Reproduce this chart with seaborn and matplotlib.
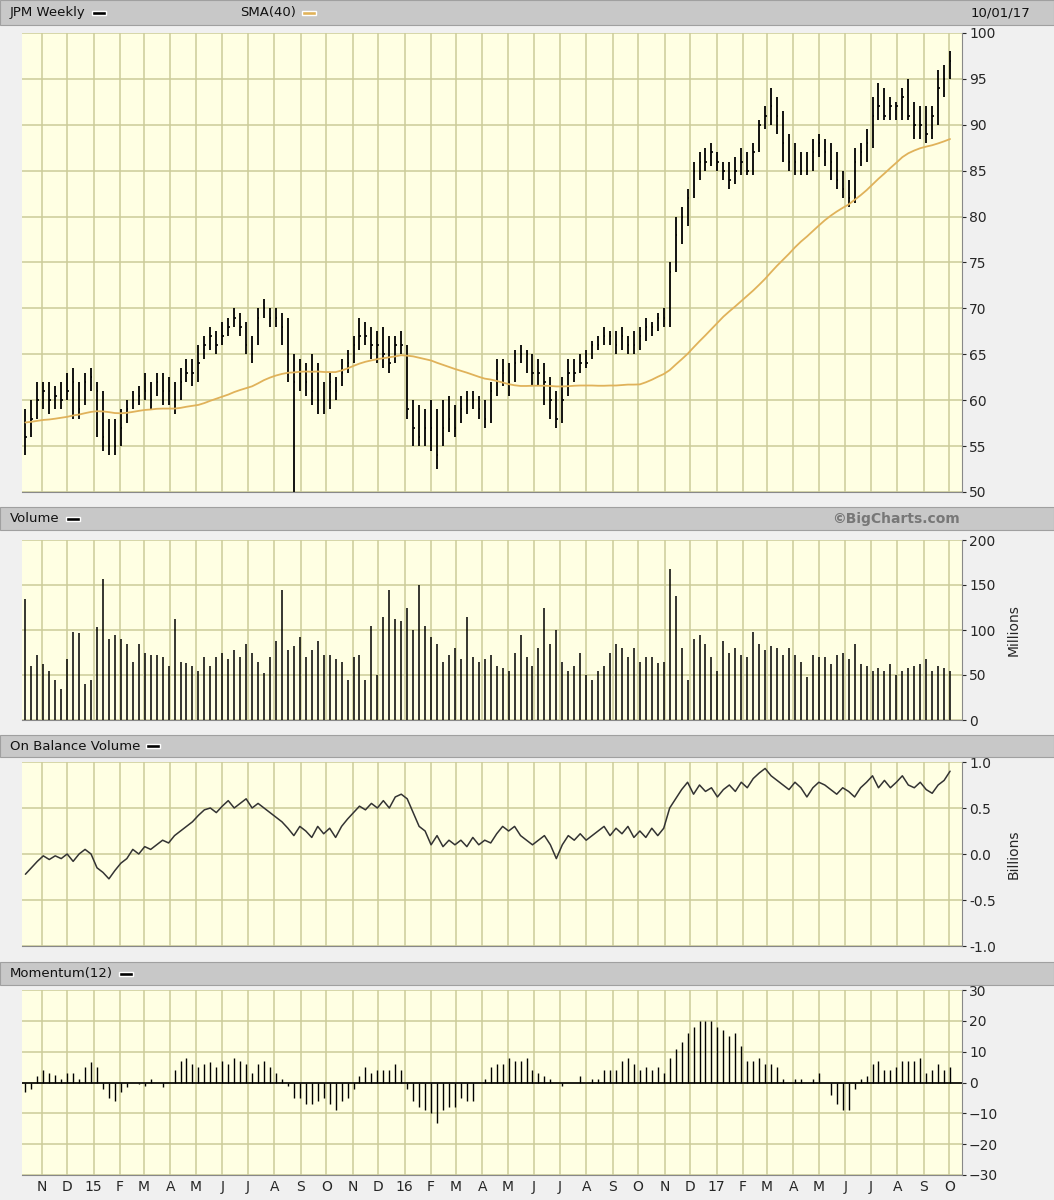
import numpy as np
import pandas as pd
import seaborn as sns
import matplotlib.pyplot as plt
import matplotlib.dates as mdates
from matplotlib.patches import Rectangle

# ---- data (weekly, grouped per month, Oct 2014 .. Oct 2017) ----
close_m = [
    [56, 58, 60], [61, 60, 60.5, 60], [61, 62, 59, 62, 62.5],
    [61, 56, 55, 55], [57, 59, 60, 60.5], [61, 60, 62, 61, 61], [60, 62, 63, 63],
    [64, 66, 67, 66], [67, 68, 69, 68, 66], [65, 69, 70, 69], [69, 68, 65, 62, 63],
    [62, 61, 60, 60], [62, 61, 63, 64], [66, 67, 67, 66, 66], [65, 64, 66, 66],
    [59, 57, 56, 57], [57, 54, 57, 58, 57], [59, 60, 60, 59], [58, 61, 63, 63],
    [62, 64, 65, 65, 63], [63, 62, 60, 58], [60, 63, 63, 64], [64, 66, 66, 67, 67],
    [66, 67, 66, 66], [67, 68, 68, 69, 69], [74, 78, 80, 82], [85, 86, 86, 87],
    [86, 85, 84, 85, 86], [85, 87, 90, 91], [92, 91, 88, 86], [86, 85, 85, 87],
    [88, 87, 86, 84, 83], [82, 86, 87, 88], [91, 92, 91, 92, 92], [93, 91, 90, 90],
    [89, 91, 94, 95], [97],
]
high_m = [
    [59, 60, 62], [62, 62, 61.5, 62], [63, 63.5, 62, 63, 63.5],
    [62, 61, 58, 58], [59, 60, 61, 61.5], [63, 62, 63, 63, 62.5], [62, 63.5, 64.5, 64.5],
    [66, 67, 68, 67.5], [68.5, 69, 70, 69.5, 68.5], [67, 70, 71, 70], [70, 69.5, 69, 65, 64.5],
    [64, 65, 64, 62], [63, 62.5, 64.5, 65.5], [67, 69, 68.5, 68, 67.5], [68, 67, 67, 67.5],
    [66, 60, 59.5, 59], [60, 59, 60, 60.5, 59.5], [60.5, 61, 61, 60.5], [60, 62, 64.5, 64.5],
    [64, 65.5, 66, 65.5, 65], [64.5, 64, 62.5, 61], [62.5, 64.5, 64.5, 65], [65.5, 66.5, 67, 68, 67.5],
    [67.5, 68, 67, 67.5], [68, 69, 68.5, 69.5, 70], [75, 80, 81, 83], [86, 87, 87.5, 88],
    [87, 86, 86, 86.5, 87.5], [87, 88, 90.5, 92], [94, 93, 91.5, 89], [88, 87, 87, 88.5],
    [89, 88.5, 88, 87, 85], [84, 87.5, 88, 89.5], [93, 94.5, 94, 93, 92.5], [94, 95, 92.5, 92],
    [92, 92, 96, 96.5], [98],
]
low_m = [
    [54, 56, 58], [59, 58.5, 59, 59], [60, 58, 58, 59.5, 61],
    [56, 54.5, 54, 54], [55, 57.5, 59, 59.5], [60, 59, 60.5, 59.5, 59.5], [58.5, 60, 62, 61.5],
    [62, 64.5, 65.5, 65], [66, 67, 68, 67, 65], [64, 66, 69, 68], [68, 66, 62, 50, 61],
    [60.5, 59.5, 58.5, 58.5], [59, 60, 61.5, 63], [64, 65.5, 66, 64.5, 64], [63.5, 63, 64, 65],
    [58, 55, 55, 55], [54.5, 52.5, 55, 56.5, 56], [57.5, 58.5, 59, 58], [57, 57.5, 60.5, 61.5],
    [60.5, 62, 64, 63, 61.5], [61.5, 59.5, 58, 57], [57.5, 60.5, 62, 63], [63.5, 64.5, 65.5, 66, 66],
    [65, 65.5, 65, 65], [65.5, 66.5, 67, 67.5, 68], [68, 74, 77, 79], [82, 84, 85, 85.5],
    [85, 84, 83, 83.5, 84.5], [84.5, 84.5, 87, 89.5], [90, 89, 86, 85], [84.5, 84.5, 84.5, 85],
    [86.5, 85.5, 84, 83, 82], [81, 81.5, 85.5, 86], [87.5, 90.5, 90.5, 90.5, 90.5], [90.5, 90.5, 88.5, 88.5],
    [88, 88.5, 90, 93], [95],
]
volume_m = [
    [135, 60, 72], [62, 55, 45, 35], [68, 98, 97, 40, 45],
    [103, 157, 90, 95], [90, 85, 65, 85], [75, 72, 72, 70, 60], [112, 65, 63, 60],
    [55, 70, 60, 70], [75, 68, 78, 70, 85], [75, 65, 52, 70], [88, 145, 78, 82, 92],
    [70, 78, 88, 72], [72, 68, 65, 45], [70, 72, 45, 105, 50], [115, 145, 112, 110],
    [125, 100, 150, 105], [92, 85, 65, 72, 80], [68, 115, 70, 65], [68, 72, 60, 58],
    [55, 75, 95, 70, 60], [80, 125, 85, 100], [65, 55, 60, 75], [50, 45, 55, 60, 75],
    [85, 80, 70, 80], [65, 70, 70, 63, 65], [168, 138, 80, 45], [90, 95, 85, 70],
    [55, 88, 75, 80, 72], [70, 98, 85, 78], [82, 80, 72, 80], [72, 65, 48, 72],
    [70, 70, 62, 72, 75], [68, 85, 62, 60], [55, 58, 55, 62, 50], [55, 58, 60, 62],
    [68, 55, 60, 58], [55],
]
obv_m = [
    [-0.22, -0.15, -0.08], [-0.02, -0.06, -0.02, -0.05], [0.0, -0.08, 0.0, 0.05, 0.0],
    [-0.15, -0.2, -0.27, -0.18], [-0.1, -0.05, 0.05, 0.0], [0.08, 0.05, 0.1, 0.15, 0.12], [0.2, 0.25, 0.3, 0.35],
    [0.42, 0.48, 0.5, 0.45], [0.52, 0.58, 0.5, 0.55, 0.6], [0.5, 0.55, 0.5, 0.45], [0.4, 0.35, 0.28, 0.2, 0.3],
    [0.25, 0.18, 0.3, 0.22], [0.28, 0.18, 0.3, 0.38], [0.45, 0.52, 0.48, 0.55, 0.5], [0.58, 0.5, 0.62, 0.65],
    [0.6, 0.45, 0.3, 0.25], [0.1, 0.2, 0.08, 0.15, 0.1], [0.15, 0.08, 0.18, 0.1], [0.15, 0.12, 0.22, 0.3],
    [0.25, 0.3, 0.2, 0.15, 0.1], [0.15, 0.2, 0.1, -0.05], [0.1, 0.2, 0.15, 0.22], [0.15, 0.2, 0.25, 0.3, 0.2],
    [0.28, 0.22, 0.3, 0.18], [0.25, 0.18, 0.28, 0.2, 0.28], [0.5, 0.6, 0.7, 0.78], [0.65, 0.75, 0.68, 0.72],
    [0.62, 0.7, 0.75, 0.68, 0.78], [0.72, 0.82, 0.88, 0.93], [0.85, 0.8, 0.75, 0.7], [0.78, 0.72, 0.62, 0.72],
    [0.78, 0.75, 0.7, 0.65, 0.72], [0.68, 0.62, 0.72, 0.78], [0.85, 0.72, 0.8, 0.72, 0.78], [0.85, 0.75, 0.72, 0.78],
    [0.7, 0.66, 0.75, 0.8], [0.9],
]
# closes before the visible window (needed for SMA(40) and Momentum(12))
pre_close = [55, 56, 57, 58, 57, 56, 57, 56, 55, 56, 57, 58, 57, 58, 59, 58, 57, 56, 56, 57,
             58, 59, 60, 61, 60, 59, 58, 59, 60, 58, 57, 57, 58, 59, 58, 59, 58, 57, 56]
month_letters = ['J', 'F', 'M', 'A', 'M', 'J', 'J', 'A', 'S', 'O', 'N', 'D']

flat = lambda m: [v for grp in m for v in grp]
close, high, low = flat(close_m), flat(high_m), flat(low_m)
volume, obv = flat(volume_m), flat(obv_m)
dates = pd.date_range('2014-10-13', periods=len(close), freq='W-MON')
df = pd.DataFrame({'date': dates, 'close': close, 'high': high, 'low': low,
                   'volume': volume, 'obv': obv})
allc = pd.Series(pre_close + close)
df['sma'] = allc.rolling(40).mean().iloc[len(pre_close):].values
df['mom'] = (allc - allc.shift(12)).iloc[len(pre_close):].values

# ---- style ----
sns.set_style('white')
plt.rcParams['font.family'] = ['DejaVu Sans']
plt.rcParams['font.size'] = 9
BG = '#ffffe3'
GRID = '#cccc99'
BAR = '#c8c8c8'
ORANGE = '#e0b25a'

fig = plt.figure(figsize=(10.54, 12), dpi=100)
fig.patch.set_facecolor('#f0f0f0')
renderer = fig.canvas.get_renderer()

W, H = 1054, 1200
def axpos(top, bottom, left=22, right=962):
    return [left / W, 1 - bottom / H, (right - left) / W, (bottom - top) / H]

ax_p = fig.add_axes(axpos(33, 492))
ax_v = fig.add_axes(axpos(540, 720), sharex=ax_p)
ax_o = fig.add_axes(axpos(762, 946), sharex=ax_p)
ax_m = fig.add_axes(axpos(990, 1175), sharex=ax_p)

def label_with_icon(xpx, yc, text, color):
    t = fig.text(xpx / W, yc, text, va='center', ha='left', fontsize=9.5, color='#111')
    x1 = t.get_window_extent(renderer).x1
    fig.patches.append(Rectangle(((x1 + 6) / W, yc - 2 / H), 14 / W, 4 / H,
                                 transform=fig.transFigure, facecolor=color, zorder=3))

def header(top, bottom, label, right_text=None, extra=None):
    fig.patches.append(Rectangle((0, 1 - bottom / H), 1, (bottom - top) / H,
                                 transform=fig.transFigure, facecolor=BAR,
                                 edgecolor='#a0a0a0', lw=0.8, zorder=0))
    yc = 1 - (top + bottom) / 2 / H
    label_with_icon(10, yc, label, 'black')
    if extra:
        label_with_icon(extra[0], yc, extra[1], ORANGE)
    if right_text:
        fig.text(right_text[4] / W, yc, right_text[0], va='center', ha='right',
                 fontsize=right_text[1], color=right_text[2], fontweight=right_text[3])

header(0, 25, 'JPM Weekly', extra=(240, 'SMA(40)'),
       right_text=('10/01/17', 9.5, '#111', 'normal', 1030))
header(507, 530, 'Volume', right_text=('©BigCharts.com', 10, '#777', 'bold', 960))
header(735, 757, 'On Balance Volume')
header(962, 985, 'Momentum(12)')

month_starts = pd.date_range('2014-11-01', '2017-10-01', freq='MS')
for ax in (ax_p, ax_v, ax_o, ax_m):
    ax.set_facecolor(BG)
    ax.set_xticks(month_starts)
    ax.grid(True, color=GRID, lw=1.1)
    ax.set_axisbelow(True)
    ax.yaxis.tick_right()
    ax.yaxis.set_label_position('right')
    ax.tick_params(axis='y', length=3, pad=2, labelsize=10)
    ax.tick_params(axis='x', length=0)
    for s in ax.spines.values():
        s.set_visible(False)
    ax.spines['right'].set_visible(True)
    ax.spines['right'].set_color('#888')
    ax.spines['bottom'].set_visible(True)
    ax.spines['bottom'].set_color('#888')

# price
x = mdates.date2num(df['date'])
ax_p.vlines(x, df['low'], df['high'], color='black', lw=1.3)
ax_p.hlines(df['close'], x, x + 1.6, color='black', lw=1.2)
sns.lineplot(data=df, x='date', y='sma', ax=ax_p, color=ORANGE, lw=1.3)
ax_p.set_ylim(50, 100)
ax_p.set_yticks(range(50, 101, 5))
ax_p.set_xlabel(''); ax_p.set_ylabel('')

# volume
ax_v.vlines(x, 0, df['volume'], color='black', lw=1.1)
ax_v.set_ylim(0, 200)
ax_v.set_yticks(range(0, 201, 50))
ax_v.set_ylabel('Millions', fontsize=10, labelpad=8)

# on balance volume
sns.lineplot(data=df, x='date', y='obv', ax=ax_o, color='#333', lw=1.1)
ax_o.set_ylim(-1, 1)
ax_o.set_yticks([-1, -0.5, 0, 0.5, 1])
ax_o.set_yticklabels(['-1.0', '-0.5', '0.0', '0.5', '1.0'])
ax_o.set_xlabel('')
ax_o.set_ylabel('Billions', fontsize=10, labelpad=8)

# momentum
ax_m.vlines(x, 0, df['mom'], color='black', lw=1.0)
ax_m.axhline(0, color='black', lw=1.2)
ax_m.set_ylim(-30, 30)
ax_m.set_yticks(range(-30, 31, 10))
ax_m.set_xlabel(''); ax_m.set_ylabel('')

ax_p.set_xlim(mdates.datestr2num('2014-10-09'), mdates.datestr2num('2017-10-16'))
labels = [str(d.year)[2:] if d.month == 1 else month_letters[d.month - 1] for d in month_starts]
ax_m.set_xticklabels(labels, fontsize=10)
for ax in (ax_p, ax_v, ax_o):
    ax.tick_params(axis='x', labelbottom=False)

fig.savefig('out.png', dpi=100, facecolor=fig.get_facecolor())
